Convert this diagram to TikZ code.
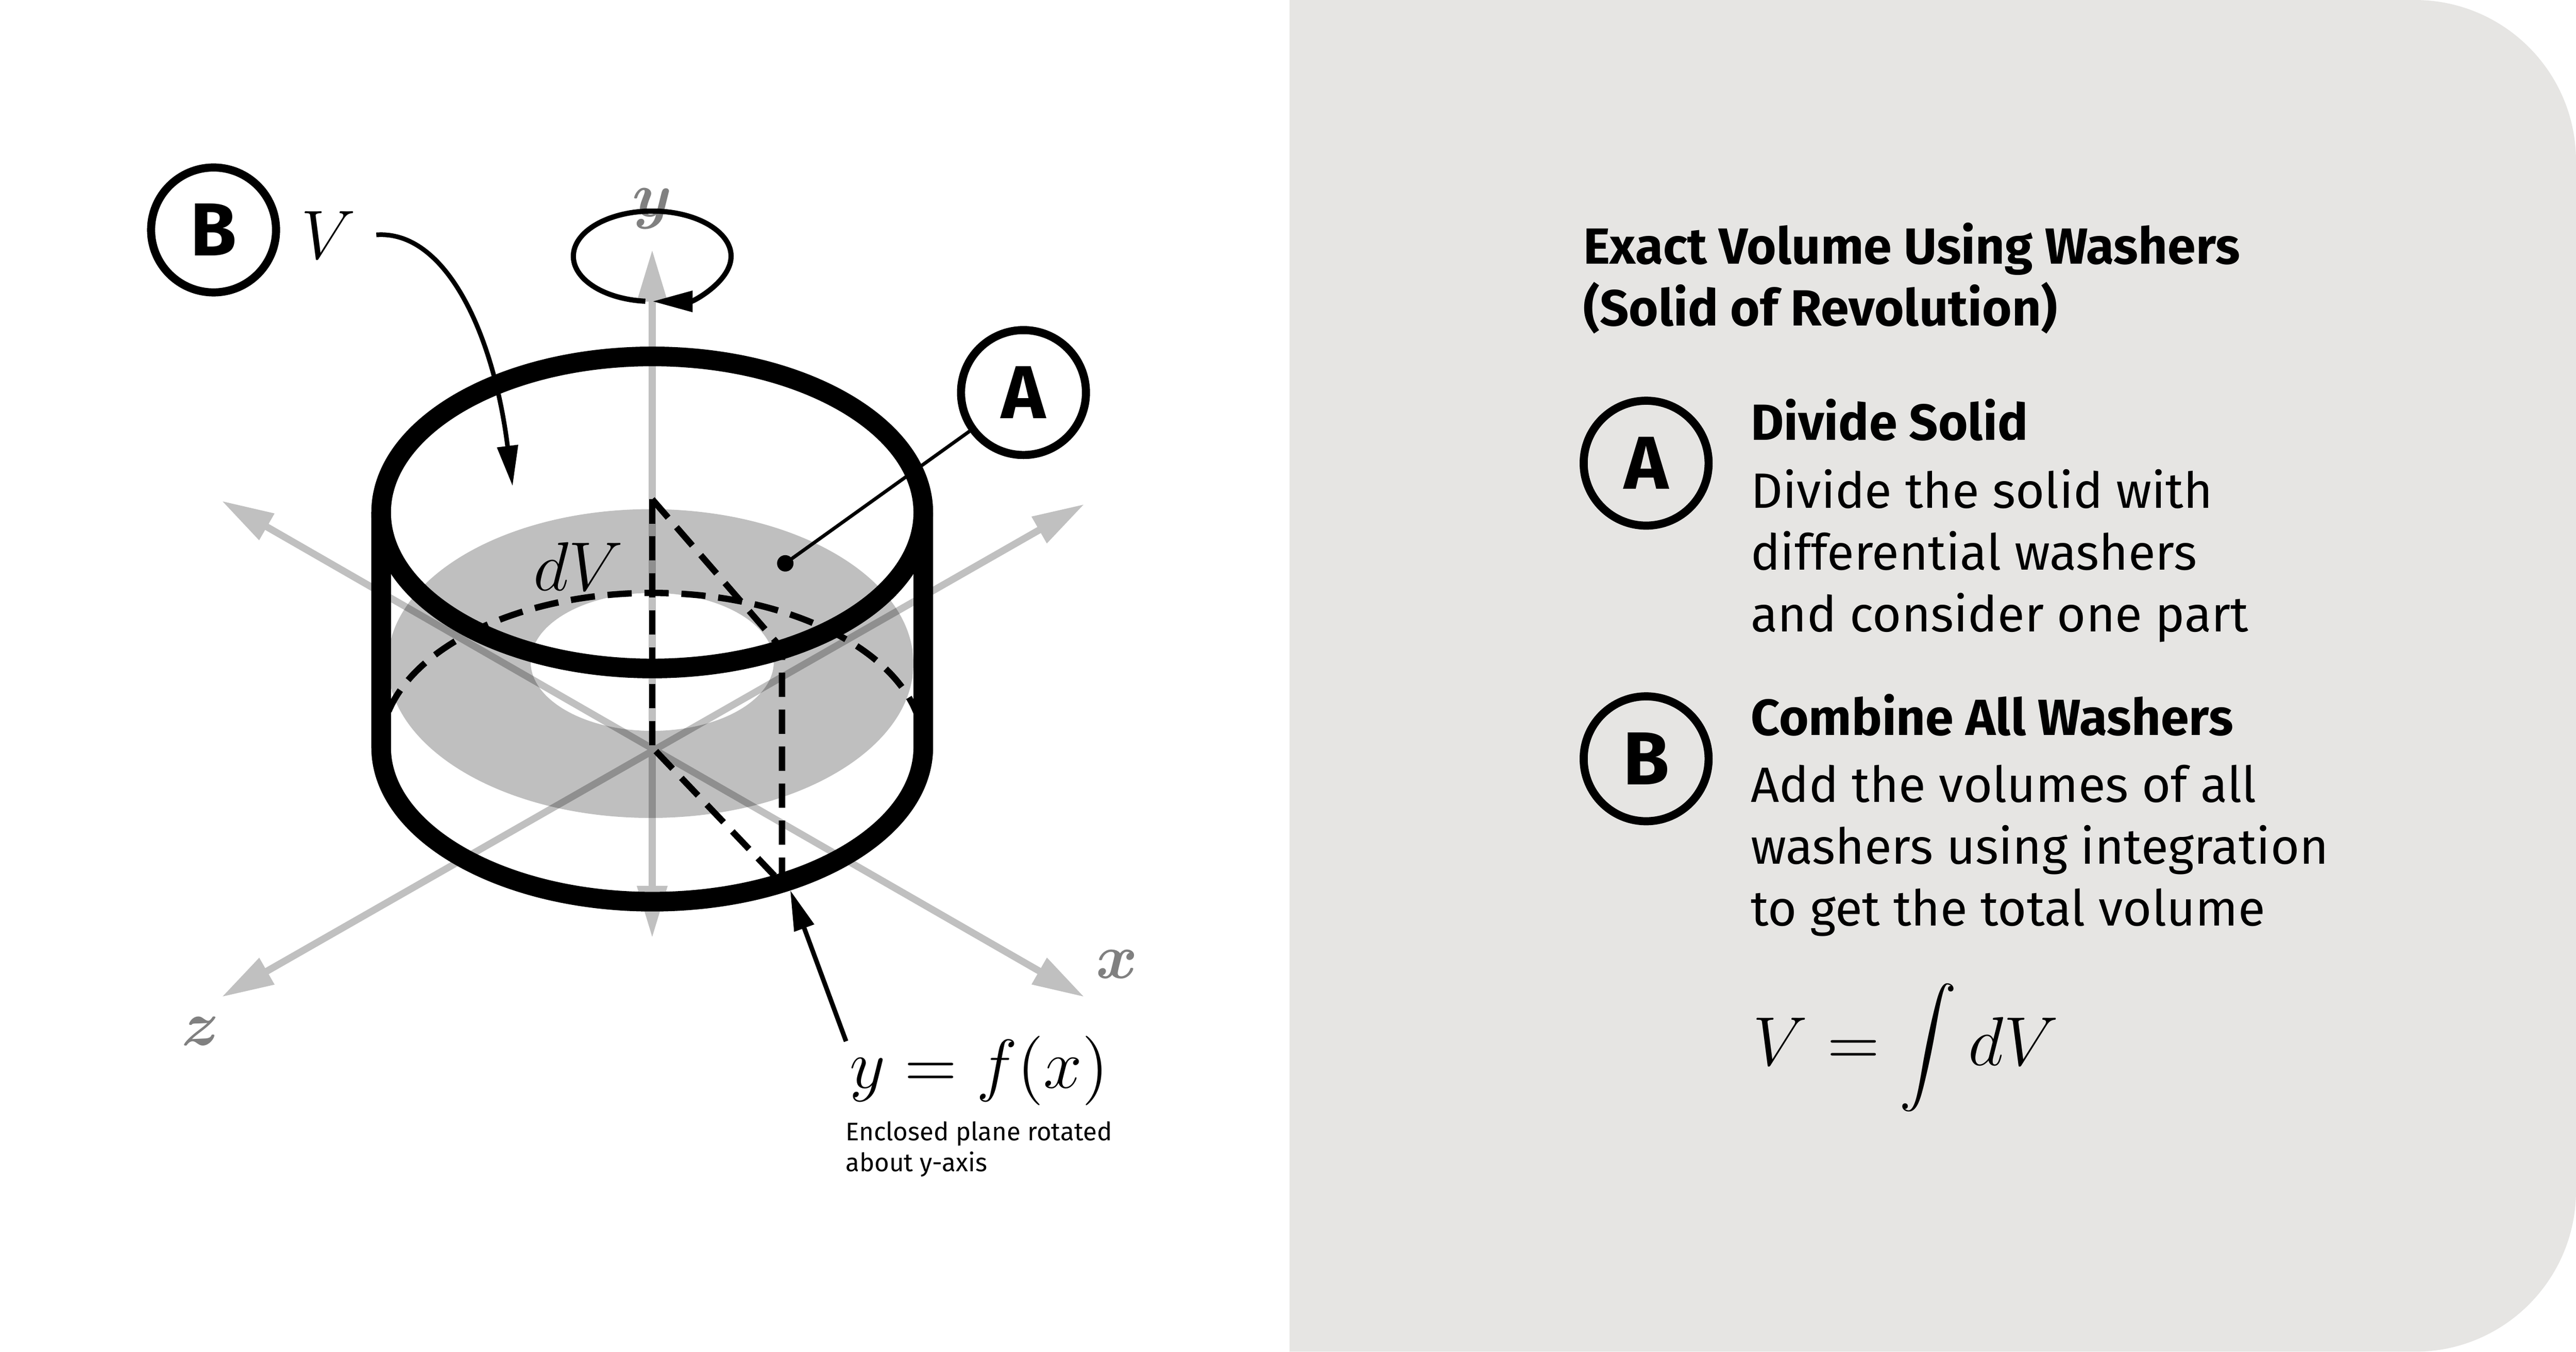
\documentclass[tikz,border=0pt]{standalone}
\usepackage{fontspec}
\setmainfont{Fira Sans}
\usetikzlibrary{arrows.meta}
\definecolor{panel}{HTML}{E6E5E3}
\definecolor{axgray}{HTML}{C0C0C0}
\tikzset{
  ax/.style={draw=axgray,line width=1.2pt,{Triangle[length=9pt,width=5pt,fill=axgray]}-{Triangle[length=9pt,width=5pt,fill=axgray]}},
  cyl/.style={line width=3.4pt,black},
  dsh/.style={line width=1.1pt,dash pattern=on 4.2pt off 2.2pt},
  lbl/.style={circle,draw,line width=1.4pt,minimum size=0.76cm,inner sep=0pt,font=\fontsize{13}{13}\selectfont\bfseries},
  ptr/.style={line width=0.8pt,-{Triangle[length=7pt,width=3.5pt]}},
  body/.style={anchor=north west,align=left,font=\fontsize{8.6}{10.7}\selectfont,inner sep=0pt},
  head/.style={anchor=north west,align=left,font=\fontsize{8.8}{10.7}\selectfont\bfseries,inner sep=0pt},
  axl/.style={text=gray,font=\fontsize{11}{11}\selectfont\boldmath}
}
\begin{document}
\begin{tikzpicture}[x=0.01cm,y=-0.01cm]
\useasboundingbox (0,0) rectangle (1568,823);
\fill[white] (0,0) rectangle (1568,823);
\fill[panel] (785,0) -- (1470,0) arc[start angle=-90,end angle=0,radius=98] -- (1568,725) arc[start angle=0,end angle=90,radius=98] -- (785,823) -- cycle;
% axes
\coordinate (O) at (397,455);
\draw[ax] (135,305) -- (660,607);
\draw[ax] (660,307) -- (135,607);
\draw[ax] (397,571) -- (397,152);
\node[axl] (ly) at (397,127) {$y$};
\node[axl] (lx) at (680,587) {$x$};
\node[axl] (lz) at (122,628) {$z$};
% rotation
\draw[line width=0.9pt,-{Triangle[length=7pt,width=3.5pt]}] (397,156) ++(95:48 and 27.5) arc[start angle=95,end angle=450,x radius=48,y radius=27.5];
% washer
\fill[black,opacity=0.25,even odd rule] (396,404) ellipse[x radius=160,y radius=94] (397,403) ellipse[x radius=74,y radius=42];
% dashed
\coordinate (T) at (397,304);
\coordinate (Pt) at (476,395);
\coordinate (Pb) at (476,538);
\draw[dsh] (T) -- (O);
\draw[dsh] (T) -- (Pt) -- (Pb) -- (O);
\draw[dsh] (232,455) arc[start angle=180,end angle=360,x radius=165,y radius=94];
% cylinder
\draw[cyl] (397,312) ellipse[x radius=165,y radius=95];
\draw[cyl] (232,312) -- (232,455) arc[start angle=180,end angle=0,x radius=165,y radius=94] -- (562,312);
% labels
\node[font=\fontsize{12.5}{12.5}\selectfont] (dv) at (352,345) {$dV$};
\node[lbl] (A) at (623,239) {A};
\coordinate (dot) at (478,343);
\fill (dot) circle[radius=5];
\draw[line width=0.6pt] (dot) -- (A);
\node[lbl] (B) at (130,140) {B};
\node[font=\fontsize{12.5}{12.5}\selectfont] (V) at (200,143) {$V$};
\coordinate (vt) at (312,296);
\draw[ptr] (V.east) .. controls (270,140) and (300,200) .. (vt);
\node[font=\fontsize{12.8}{12.8}\selectfont] (f) at (596,652) {$y=f(x)$};
\coordinate (ft) at (481,542);
\draw[ptr] (515,634) -- (ft);
\node[anchor=north west,align=left,inner sep=0pt,font=\fontsize{4.4}{5.4}\selectfont] (cap) at (514,682) {Enclosed plane rotated\\about y-axis};
% right panel
\node[head] (title) at (963,135) {Exact Volume Using Washers\\(Solid of Revolution)};
\node[lbl] (A2) at (1002,282) {A};
\node[head] (ah) at (1065,242) {Divide Solid};
\node[body] (ab) at (1065,285) {Divide the solid with\\differential washers\\and consider one part};
\node[lbl] (B2) at (1002,462) {B};
\node[head] (bh) at (1065,422) {Combine All Washers};
\node[body] (bb) at (1065,465) {Add the volumes of all\\washers using integration\\to get the total volume};
\node[font=\fontsize{13}{13}\selectfont] (form) at (1160,638) {$\displaystyle V=\int dV$};
\end{tikzpicture}
\end{document}
